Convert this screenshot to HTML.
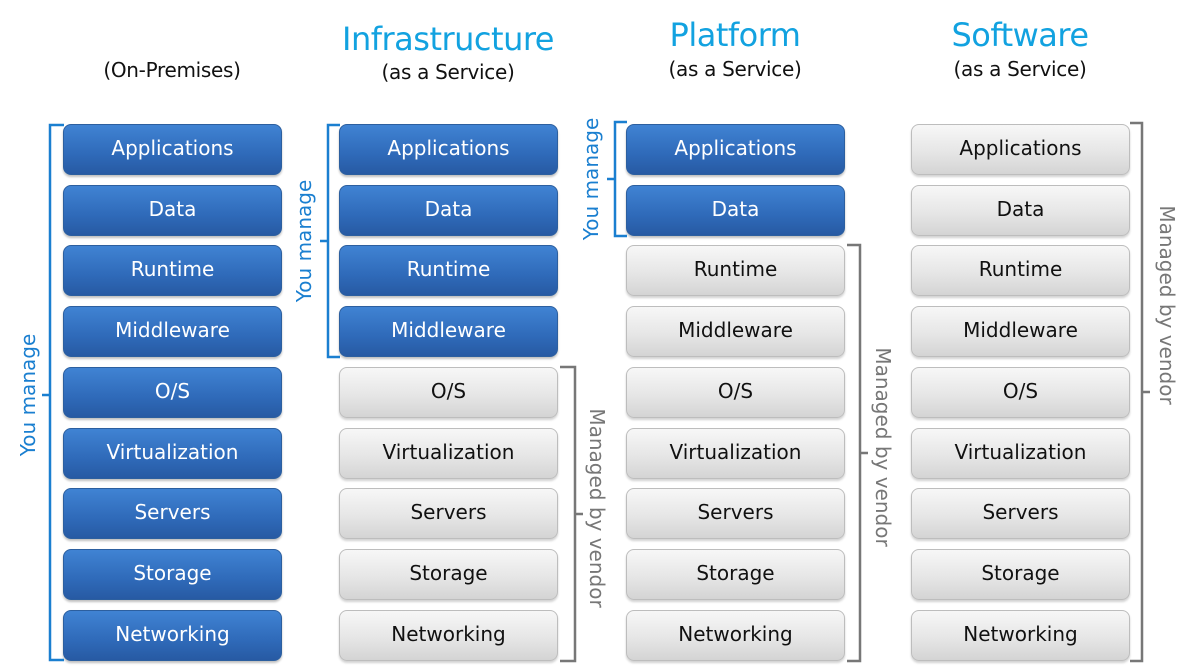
<!DOCTYPE html>
<html><head><meta charset="utf-8"><style>
body{margin:0;width:1200px;height:670px;background:#fff;position:relative;overflow:hidden;font-family:"Segoe UI","DejaVu Sans","Liberation Sans",sans-serif}
.b{position:absolute;width:219px;height:51px;border-radius:8px;box-sizing:border-box;display:flex;align-items:center;justify-content:center;font-size:20px;padding-bottom:4px}
.u{background:linear-gradient(#4083d3,#2f6ab9 60%,#275aa3);color:#fff;border:1px solid #2c5f9f;box-shadow:0 2px 2px rgba(0,0,0,.25)}
.g{background:linear-gradient(#f7f7f7,#e6e6e6 55%,#d4d4d4);color:#111;border:1px solid #bdbdbd;box-shadow:0 2px 2px rgba(0,0,0,.18)}
.h{position:absolute;text-align:center;width:300px}
.t{color:#12a2e0;font-size:32px;line-height:36px;letter-spacing:-0.5px}
.s{color:#111;font-size:20px;line-height:24px;letter-spacing:-0.3px}
</style></head><body>
<div class="h s" style="left:22px;top:58px">(On-Premises)</div>
<div class="h t" style="left:298px;top:21px">Infrastructure</div>
<div class="h s" style="left:298px;top:60px">(as a Service)</div>
<div class="h t" style="left:585px;top:17px">Platform</div>
<div class="h s" style="left:585px;top:57px">(as a Service)</div>
<div class="h t" style="left:870px;top:17px">Software</div>
<div class="h s" style="left:870px;top:57px">(as a Service)</div>
<div id="c"></div>
<svg width="1200" height="670" style="position:absolute;left:0;top:0" font-family="Segoe UI, DejaVu Sans, Liberation Sans, sans-serif" font-size="20">
<g fill="none" stroke-width="2.5">
<path d="M64 125H50V660H64M50 395H42" stroke="#1a7fd0"/>
<path d="M340 125H328V357H340M328 241H320" stroke="#1a7fd0"/>
<path d="M627 122H615V236H627M615 179H607" stroke="#1a7fd0"/>
<path d="M560 367H575V661H560M575 514H583" stroke="#777"/>
<path d="M847 245H860V661H847M860 453H868" stroke="#777"/>
<path d="M1130 123H1142V661H1130M1142 392H1150" stroke="#777"/>
</g>
<text transform="translate(35,395) rotate(-90)" text-anchor="middle" fill="#1a7fd0">You manage</text>
<text transform="translate(311,241) rotate(-90)" text-anchor="middle" fill="#1a7fd0">You manage</text>
<text transform="translate(598,179) rotate(-90)" text-anchor="middle" fill="#1a7fd0">You manage</text>
<text transform="translate(590,508) rotate(90)" text-anchor="middle" fill="#777">Managed by vendor</text>
<text transform="translate(876,447) rotate(90)" text-anchor="middle" fill="#777">Managed by vendor</text>
<text transform="translate(1160,305) rotate(90)" text-anchor="middle" fill="#777">Managed by vendor</text>
</svg>
<script>
var L=["Applications","Data","Runtime","Middleware","O/S","Virtualization","Servers","Storage","Networking"];
var X=[63,339,626,911],B=[9,4,2,0],h="";
for(var c=0;c<4;c++)for(var r=0;r<9;r++){var y=124+Math.round(r*60.7);
h+='<div class="b '+(r<B[c]?'u':'g')+'" style="left:'+X[c]+'px;top:'+y+'px">'+L[r]+'</div>';}
document.getElementById("c").innerHTML=h;
</script>
</body></html>
